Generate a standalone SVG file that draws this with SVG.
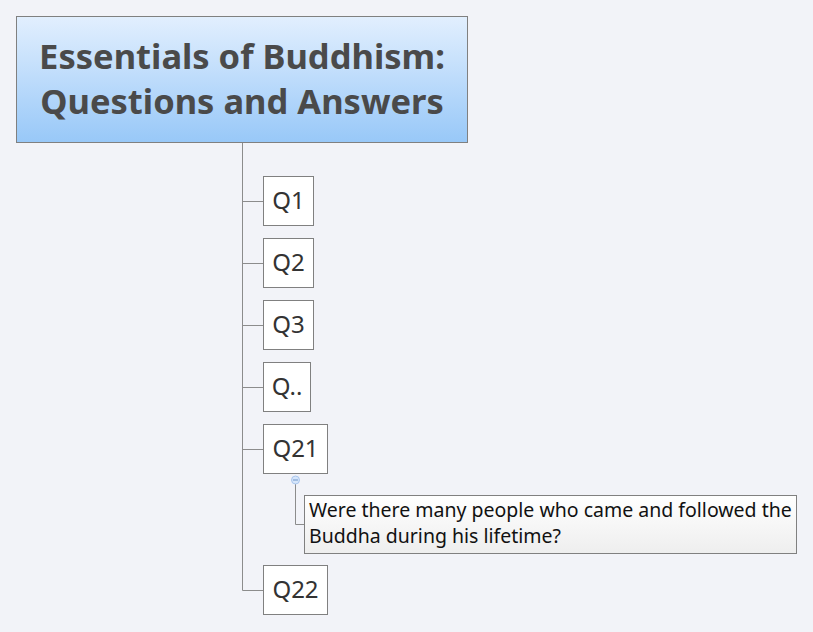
<svg xmlns="http://www.w3.org/2000/svg" width="813" height="632" viewBox="0 0 813 632">
<defs>
<linearGradient id="rootg" x1="0" y1="0" x2="0" y2="1">
<stop offset="0" stop-color="#e2effe"/>
<stop offset="1" stop-color="#98c8f8"/>
</linearGradient>
<linearGradient id="leafg" x1="0" y1="0" x2="0" y2="1">
<stop offset="0" stop-color="#ffffff"/>
<stop offset="1" stop-color="#eeeeee"/>
</linearGradient>
<style>
.box{fill:#ffffff;stroke:#808080;stroke-width:1}
.q{font-family:"Noto Sans","Open Sans",sans-serif;font-size:24px;fill:#333333;text-anchor:middle}
.conn{fill:none;stroke:#8c8c8c;stroke-width:1}
.title{font-family:"Noto Sans","Open Sans",sans-serif;font-size:34.5px;font-weight:bold;fill:#4a4a4a;text-anchor:middle}
.leaf{font-family:"Noto Sans","Open Sans",sans-serif;font-size:19.5px;fill:#111111}
</style>
</defs>
<rect width="813" height="632" fill="#f2f3f8"/>
<g id="connectors">
<path class="conn" d="M242.5 142.5V590.5M242.5 201.5H263.5M242.5 263.5H263.5M242.5 325.5H263.5M242.5 387.5H263.5M242.5 449.5H263.5M242.5 590.5H263.5"/>
<path class="conn" d="M295.5 484V524.5H304.5"/>
</g>
<g id="root">
<rect x="16.5" y="16.5" width="451" height="126" fill="url(#rootg)" stroke="#808080"/>
<text class="title" x="242" y="69">Essentials of Buddhism:</text>
<text class="title" x="242" y="114">Questions and Answers</text>
</g>
<g id="q1"><rect class="box" x="263.5" y="176.5" width="50" height="49"/><text class="q" x="288.5" y="209">Q1</text></g>
<g id="q2"><rect class="box" x="263.5" y="238.5" width="50" height="49"/><text class="q" x="288.5" y="271">Q2</text></g>
<g id="q3"><rect class="box" x="263.5" y="300.5" width="50" height="49"/><text class="q" x="288.5" y="333">Q3</text></g>
<g id="qdots"><rect class="box" x="263.5" y="362.5" width="47" height="49"/><text class="q" x="287" y="395">Q..</text></g>
<g id="q21"><rect class="box" x="263.5" y="424.5" width="64" height="49"/><text class="q" x="295.5" y="457">Q21</text>
<circle cx="295.5" cy="480" r="4" fill="#d6e6fb" stroke="#a9c6ee"/><path d="M293 480H298" stroke="#6f95c8" stroke-width="1"/></g>
<g id="leaf"><rect x="304.5" y="495.5" width="492" height="58" fill="url(#leafg)" stroke="#808080"/>
<text class="leaf" x="309" y="517">Were there many people who came and followed the</text>
<text class="leaf" x="309" y="543">Buddha during his lifetime?</text></g>
<g id="q22"><rect class="box" x="263.5" y="565.5" width="64" height="49"/><text class="q" x="295.5" y="598">Q22</text></g>
</svg>
